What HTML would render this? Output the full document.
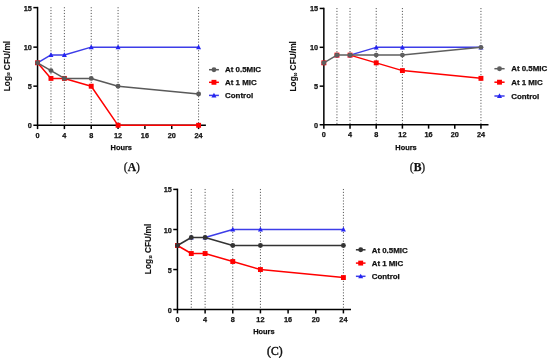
<!DOCTYPE html>
<html><head><meta charset="utf-8"><title>Figure</title>
<style>
html,body{margin:0;padding:0;background:#fff;}
body{width:550px;height:359px;overflow:hidden;position:relative;}
svg{position:absolute;left:0;top:0;display:block;}
text{font-family:"Liberation Sans",Arial,sans-serif;font-weight:bold;fill:#111;stroke:#111;stroke-width:0.25px;}
text.pl{font-family:"Liberation Serif","Times New Roman",serif;font-weight:normal;fill:#111;}
</style></head><body>
<svg width="550" height="359" viewBox="0 0 550 359">
<g><line x1="50.97" y1="7.18" x2="50.97" y2="125.3" stroke="#555" stroke-width="1.0" stroke-dasharray="1.1 1.77"/>
<line x1="64.39" y1="7.18" x2="64.39" y2="125.3" stroke="#555" stroke-width="1.0" stroke-dasharray="1.1 1.77"/>
<line x1="91.23" y1="7.18" x2="91.23" y2="125.3" stroke="#555" stroke-width="1.0" stroke-dasharray="1.1 1.77"/>
<line x1="118.07" y1="7.18" x2="118.07" y2="125.3" stroke="#555" stroke-width="1.0" stroke-dasharray="1.1 1.77"/>
<line x1="198.59" y1="7.18" x2="198.59" y2="125.3" stroke="#555" stroke-width="1.0" stroke-dasharray="1.1 1.77"/>
<line x1="37.55" y1="6.85" x2="37.55" y2="129.1" stroke="#000" stroke-width="1.5"/>
<line x1="33.35" y1="125.3" x2="205.9" y2="125.3" stroke="#000" stroke-width="1.5"/>
<line x1="33.35" y1="86.15" x2="37.55" y2="86.15" stroke="#000" stroke-width="1.5"/>
<line x1="33.35" y1="47.15" x2="37.55" y2="47.15" stroke="#000" stroke-width="1.5"/>
<line x1="33.35" y1="7.6" x2="37.55" y2="7.6" stroke="#000" stroke-width="1.5"/>
<line x1="64.39" y1="125.3" x2="64.39" y2="129.1" stroke="#000" stroke-width="1.5"/>
<line x1="91.23" y1="125.3" x2="91.23" y2="129.1" stroke="#000" stroke-width="1.5"/>
<line x1="118.07" y1="125.3" x2="118.07" y2="129.1" stroke="#000" stroke-width="1.5"/>
<line x1="144.91" y1="125.3" x2="144.91" y2="129.1" stroke="#000" stroke-width="1.5"/>
<line x1="171.75" y1="125.3" x2="171.75" y2="129.1" stroke="#000" stroke-width="1.5"/>
<line x1="198.59" y1="125.3" x2="198.59" y2="129.1" stroke="#000" stroke-width="1.5"/>
<text x="31.85" y="128.3" text-anchor="end" font-size="7.3">0</text>
<text x="31.85" y="89.15" text-anchor="end" font-size="7.3">5</text>
<text x="31.85" y="50.15" text-anchor="end" font-size="7.3">10</text>
<text x="31.85" y="10.6" text-anchor="end" font-size="7.3">15</text>
<text x="37.55" y="137.8" text-anchor="middle" font-size="7.3">0</text>
<text x="64.39" y="137.8" text-anchor="middle" font-size="7.3">4</text>
<text x="91.23" y="137.8" text-anchor="middle" font-size="7.3">8</text>
<text x="118.07" y="137.8" text-anchor="middle" font-size="7.3">12</text>
<text x="144.91" y="137.8" text-anchor="middle" font-size="7.3">16</text>
<text x="171.75" y="137.8" text-anchor="middle" font-size="7.3">20</text>
<text x="198.59" y="137.8" text-anchor="middle" font-size="7.3">24</text>
<polyline points="37.55,62.78 50.97,54.96 64.39,54.96 91.23,47.15 118.07,47.15 198.59,47.15" fill="none" stroke="#3d3de8" stroke-width="1.5" stroke-linejoin="round"/>
<polygon points="37.55,60.13 40.05,64.83 35.05,64.83" fill="#2525f2"/>
<polygon points="50.97,52.31 53.47,57.01 48.47,57.01" fill="#2525f2"/>
<polygon points="64.39,52.31 66.89,57.01 61.89,57.01" fill="#2525f2"/>
<polygon points="91.23,44.5 93.73,49.2 88.73,49.2" fill="#2525f2"/>
<polygon points="118.07,44.5 120.57,49.2 115.57,49.2" fill="#2525f2"/>
<polygon points="198.59,44.5 201.09,49.2 196.09,49.2" fill="#2525f2"/>
<polyline points="37.55,62.78 50.97,78.41 64.39,78.41 91.23,86.22 118.07,125.3 198.59,125.3" fill="none" stroke="#ff0000" stroke-width="1.5" stroke-linejoin="round"/>
<rect x="35.1" y="60.33" width="4.9" height="4.9" fill="#ff0000"/>
<rect x="48.52" y="75.96" width="4.9" height="4.9" fill="#ff0000"/>
<rect x="61.94" y="75.96" width="4.9" height="4.9" fill="#ff0000"/>
<rect x="88.78" y="83.77" width="4.9" height="4.9" fill="#ff0000"/>
<rect x="115.62" y="122.85" width="4.9" height="4.9" fill="#ff0000"/>
<rect x="196.14" y="122.85" width="4.9" height="4.9" fill="#ff0000"/>
<polyline points="37.55,62.78 50.97,70.59 64.39,78.41 91.23,78.41 118.07,86.22 198.59,94.04" fill="none" stroke="#5a5a5a" stroke-width="1.5" stroke-linejoin="round"/>
<circle cx="37.55" cy="62.78" r="2.45" fill="#5a5a5a"/>
<circle cx="50.97" cy="70.59" r="2.45" fill="#5a5a5a"/>
<circle cx="64.39" cy="78.41" r="2.45" fill="#5a5a5a"/>
<circle cx="91.23" cy="78.41" r="2.45" fill="#5a5a5a"/>
<circle cx="118.07" cy="86.22" r="2.45" fill="#5a5a5a"/>
<circle cx="198.59" cy="94.04" r="2.45" fill="#5a5a5a"/>
<line x1="209" y1="69.7" x2="218.9" y2="69.7" stroke="#5a5a5a" stroke-width="1.5"/>
<circle cx="213.95" cy="69.7" r="2.45" fill="#5a5a5a"/>
<text x="225.1" y="72.4" font-size="7.9">At 0.5MIC</text>
<line x1="209" y1="82.3" x2="218.9" y2="82.3" stroke="#ff0000" stroke-width="1.5"/>
<rect x="211.5" y="79.85" width="4.9" height="4.9" fill="#ff0000"/>
<text x="225.1" y="85" font-size="7.9">At 1 MIC</text>
<line x1="209" y1="95.4" x2="218.9" y2="95.4" stroke="#3d3de8" stroke-width="1.5"/>
<polygon points="213.95,92.75 216.45,97.45 211.45,97.45" fill="#2525f2"/>
<text x="225.1" y="98.1" font-size="7.9">Control</text>
<text transform="translate(10,66.05) rotate(-90)" text-anchor="middle" font-size="8.4" style="stroke-width:0.12px">Log<tspan font-size="3.1" dy="0.3">10</tspan><tspan dy="-0.3"> CFU/ml</tspan></text>
<text x="121.3" y="150.1" text-anchor="middle" font-size="7.4">Hours</text>
<text class="pl" x="131.9" y="171.3" text-anchor="middle" font-size="11.6">(<tspan font-weight="bold">A</tspan>)</text></g>
<g><line x1="336.94" y1="8.03" x2="336.94" y2="124.85" stroke="#555" stroke-width="1.0" stroke-dasharray="1.1 1.77"/>
<line x1="350.03" y1="8.03" x2="350.03" y2="124.85" stroke="#555" stroke-width="1.0" stroke-dasharray="1.1 1.77"/>
<line x1="376.22" y1="8.03" x2="376.22" y2="124.85" stroke="#555" stroke-width="1.0" stroke-dasharray="1.1 1.77"/>
<line x1="402.4" y1="8.03" x2="402.4" y2="124.85" stroke="#555" stroke-width="1.0" stroke-dasharray="1.1 1.77"/>
<line x1="480.95" y1="8.03" x2="480.95" y2="124.85" stroke="#555" stroke-width="1.0" stroke-dasharray="1.1 1.77"/>
<line x1="323.85" y1="7.7" x2="323.85" y2="128.65" stroke="#000" stroke-width="1.5"/>
<line x1="319.65" y1="124.85" x2="488.5" y2="124.85" stroke="#000" stroke-width="1.5"/>
<line x1="319.65" y1="86.15" x2="323.85" y2="86.15" stroke="#000" stroke-width="1.5"/>
<line x1="319.65" y1="47.3" x2="323.85" y2="47.3" stroke="#000" stroke-width="1.5"/>
<line x1="319.65" y1="8.45" x2="323.85" y2="8.45" stroke="#000" stroke-width="1.5"/>
<line x1="350.03" y1="124.85" x2="350.03" y2="128.65" stroke="#000" stroke-width="1.5"/>
<line x1="376.22" y1="124.85" x2="376.22" y2="128.65" stroke="#000" stroke-width="1.5"/>
<line x1="402.4" y1="124.85" x2="402.4" y2="128.65" stroke="#000" stroke-width="1.5"/>
<line x1="428.59" y1="124.85" x2="428.59" y2="128.65" stroke="#000" stroke-width="1.5"/>
<line x1="454.77" y1="124.85" x2="454.77" y2="128.65" stroke="#000" stroke-width="1.5"/>
<line x1="480.95" y1="124.85" x2="480.95" y2="128.65" stroke="#000" stroke-width="1.5"/>
<text x="318.15" y="127.85" text-anchor="end" font-size="7.3">0</text>
<text x="318.15" y="89.15" text-anchor="end" font-size="7.3">5</text>
<text x="318.15" y="50.3" text-anchor="end" font-size="7.3">10</text>
<text x="318.15" y="11.45" text-anchor="end" font-size="7.3">15</text>
<text x="323.85" y="137.35" text-anchor="middle" font-size="7.3">0</text>
<text x="350.03" y="137.35" text-anchor="middle" font-size="7.3">4</text>
<text x="376.22" y="137.35" text-anchor="middle" font-size="7.3">8</text>
<text x="402.4" y="137.35" text-anchor="middle" font-size="7.3">12</text>
<text x="428.59" y="137.35" text-anchor="middle" font-size="7.3">16</text>
<text x="454.77" y="137.35" text-anchor="middle" font-size="7.3">20</text>
<text x="480.95" y="137.35" text-anchor="middle" font-size="7.3">24</text>
<polyline points="350.03,55.1 376.22,47.35 402.4,47.35 480.95,47.35" fill="none" stroke="#3d3de8" stroke-width="1.5" stroke-linejoin="round"/>
<polygon points="323.85,60.2 326.35,64.9 321.35,64.9" fill="#2525f2"/>
<polygon points="336.94,52.45 339.44,57.15 334.44,57.15" fill="#2525f2"/>
<polygon points="350.03,52.45 352.53,57.15 347.53,57.15" fill="#2525f2"/>
<polygon points="376.22,44.7 378.72,49.4 373.72,49.4" fill="#2525f2"/>
<polygon points="402.4,44.7 404.9,49.4 399.9,49.4" fill="#2525f2"/>
<polygon points="480.95,44.7 483.45,49.4 478.45,49.4" fill="#2525f2"/>
<polyline points="350.03,55.1 376.22,62.85 402.4,70.6 480.95,78.35" fill="none" stroke="#ff0000" stroke-width="1.5" stroke-linejoin="round"/>
<rect x="321.4" y="60.4" width="4.9" height="4.9" fill="#ff0000"/>
<rect x="334.49" y="52.65" width="4.9" height="4.9" fill="#ff0000"/>
<rect x="347.58" y="52.65" width="4.9" height="4.9" fill="#ff0000"/>
<rect x="373.77" y="60.4" width="4.9" height="4.9" fill="#ff0000"/>
<rect x="399.95" y="68.15" width="4.9" height="4.9" fill="#ff0000"/>
<rect x="478.5" y="75.9" width="4.9" height="4.9" fill="#ff0000"/>
<polyline points="323.85,62.85 336.94,55.1 350.03,55.1 376.22,55.1 402.4,55.1 480.95,47.35" fill="none" stroke="#5f5f5f" stroke-width="1.5" stroke-linejoin="round"/>
<circle cx="323.85" cy="62.85" r="2.45" fill="#5f5f5f"/>
<circle cx="336.94" cy="55.1" r="2.45" fill="#5f5f5f"/>
<circle cx="350.03" cy="55.1" r="2.45" fill="#5f5f5f"/>
<circle cx="376.22" cy="55.1" r="2.45" fill="#5f5f5f"/>
<circle cx="402.4" cy="55.1" r="2.45" fill="#5f5f5f"/>
<circle cx="480.95" cy="47.35" r="2.45" fill="#5f5f5f"/>
<line x1="494.4" y1="68.7" x2="504.6" y2="68.7" stroke="#5f5f5f" stroke-width="1.5"/>
<circle cx="499.5" cy="68.7" r="2.45" fill="#5f5f5f"/>
<text x="511.2" y="71.4" font-size="7.9">At 0.5MIC</text>
<line x1="494.4" y1="82.2" x2="504.6" y2="82.2" stroke="#ff0000" stroke-width="1.5"/>
<rect x="497.05" y="79.75" width="4.9" height="4.9" fill="#ff0000"/>
<text x="511.2" y="84.9" font-size="7.9">At 1 MIC</text>
<line x1="494.4" y1="96" x2="504.6" y2="96" stroke="#3d3de8" stroke-width="1.5"/>
<polygon points="499.5,93.35 502,98.05 497,98.05" fill="#2525f2"/>
<text x="511.2" y="98.7" font-size="7.9">Control</text>
<text transform="translate(296.3,66.3) rotate(-90)" text-anchor="middle" font-size="8.4" style="stroke-width:0.12px">Log<tspan font-size="3.1" dy="0.3">10</tspan><tspan dy="-0.3"> CFU/ml</tspan></text>
<text x="406" y="150.3" text-anchor="middle" font-size="7.4">Hours</text>
<text class="pl" x="417.5" y="171" text-anchor="middle" font-size="11.6">(<tspan font-weight="bold">B</tspan>)</text></g>
<g><line x1="191.28" y1="188.98" x2="191.28" y2="309.6" stroke="#555" stroke-width="1.0" stroke-dasharray="1.1 1.77"/>
<line x1="205.11" y1="188.98" x2="205.11" y2="309.6" stroke="#555" stroke-width="1.0" stroke-dasharray="1.1 1.77"/>
<line x1="232.77" y1="188.98" x2="232.77" y2="309.6" stroke="#555" stroke-width="1.0" stroke-dasharray="1.1 1.77"/>
<line x1="260.43" y1="188.98" x2="260.43" y2="309.6" stroke="#555" stroke-width="1.0" stroke-dasharray="1.1 1.77"/>
<line x1="343.41" y1="188.98" x2="343.41" y2="309.6" stroke="#555" stroke-width="1.0" stroke-dasharray="1.1 1.77"/>
<line x1="177.45" y1="188.65" x2="177.45" y2="313.4" stroke="#000" stroke-width="1.5"/>
<line x1="173.25" y1="309.6" x2="351" y2="309.6" stroke="#000" stroke-width="1.5"/>
<line x1="173.25" y1="269.55" x2="177.45" y2="269.55" stroke="#000" stroke-width="1.5"/>
<line x1="173.25" y1="229.5" x2="177.45" y2="229.5" stroke="#000" stroke-width="1.5"/>
<line x1="173.25" y1="189.4" x2="177.45" y2="189.4" stroke="#000" stroke-width="1.5"/>
<line x1="205.11" y1="309.6" x2="205.11" y2="313.4" stroke="#000" stroke-width="1.5"/>
<line x1="232.77" y1="309.6" x2="232.77" y2="313.4" stroke="#000" stroke-width="1.5"/>
<line x1="260.43" y1="309.6" x2="260.43" y2="313.4" stroke="#000" stroke-width="1.5"/>
<line x1="288.09" y1="309.6" x2="288.09" y2="313.4" stroke="#000" stroke-width="1.5"/>
<line x1="315.75" y1="309.6" x2="315.75" y2="313.4" stroke="#000" stroke-width="1.5"/>
<line x1="343.41" y1="309.6" x2="343.41" y2="313.4" stroke="#000" stroke-width="1.5"/>
<text x="171.75" y="312.6" text-anchor="end" font-size="7.3">0</text>
<text x="171.75" y="272.55" text-anchor="end" font-size="7.3">5</text>
<text x="171.75" y="232.5" text-anchor="end" font-size="7.3">10</text>
<text x="171.75" y="192.4" text-anchor="end" font-size="7.3">15</text>
<text x="177.45" y="322.1" text-anchor="middle" font-size="7.3">0</text>
<text x="205.11" y="322.1" text-anchor="middle" font-size="7.3">4</text>
<text x="232.77" y="322.1" text-anchor="middle" font-size="7.3">8</text>
<text x="260.43" y="322.1" text-anchor="middle" font-size="7.3">12</text>
<text x="288.09" y="322.1" text-anchor="middle" font-size="7.3">16</text>
<text x="315.75" y="322.1" text-anchor="middle" font-size="7.3">20</text>
<text x="343.41" y="322.1" text-anchor="middle" font-size="7.3">24</text>
<polyline points="205.11,237.48 232.77,229.47 260.43,229.47 343.41,229.47" fill="none" stroke="#3d3de8" stroke-width="1.5" stroke-linejoin="round"/>
<polygon points="177.45,242.85 179.95,247.55 174.95,247.55" fill="#2525f2"/>
<polygon points="191.28,234.83 193.78,239.53 188.78,239.53" fill="#2525f2"/>
<polygon points="205.11,234.83 207.61,239.53 202.61,239.53" fill="#2525f2"/>
<polygon points="232.77,226.82 235.27,231.52 230.27,231.52" fill="#2525f2"/>
<polygon points="260.43,226.82 262.93,231.52 257.93,231.52" fill="#2525f2"/>
<polygon points="343.41,226.82 345.91,231.52 340.91,231.52" fill="#2525f2"/>
<polyline points="177.45,245.5 191.28,253.51 205.11,253.51 232.77,261.52 260.43,269.54 343.41,277.55" fill="none" stroke="#ff0000" stroke-width="1.5" stroke-linejoin="round"/>
<rect x="175" y="243.05" width="4.9" height="4.9" fill="#ff0000"/>
<rect x="188.83" y="251.06" width="4.9" height="4.9" fill="#ff0000"/>
<rect x="202.66" y="251.06" width="4.9" height="4.9" fill="#ff0000"/>
<rect x="230.32" y="259.07" width="4.9" height="4.9" fill="#ff0000"/>
<rect x="257.98" y="267.09" width="4.9" height="4.9" fill="#ff0000"/>
<rect x="340.96" y="275.1" width="4.9" height="4.9" fill="#ff0000"/>
<polyline points="177.45,245.5 191.28,237.48 205.11,237.48 232.77,245.5 260.43,245.5 343.41,245.5" fill="none" stroke="#333333" stroke-width="1.5" stroke-linejoin="round"/>
<circle cx="177.45" cy="245.5" r="2.45" fill="#333333"/>
<circle cx="191.28" cy="237.48" r="2.45" fill="#333333"/>
<circle cx="205.11" cy="237.48" r="2.45" fill="#333333"/>
<circle cx="232.77" cy="245.5" r="2.45" fill="#333333"/>
<circle cx="260.43" cy="245.5" r="2.45" fill="#333333"/>
<circle cx="343.41" cy="245.5" r="2.45" fill="#333333"/>
<line x1="355.9" y1="249.8" x2="365.5" y2="249.8" stroke="#333333" stroke-width="1.5"/>
<circle cx="360.7" cy="249.8" r="2.45" fill="#333333"/>
<text x="371.7" y="252.5" font-size="7.9">At 0.5MIC</text>
<line x1="355.9" y1="263.1" x2="365.5" y2="263.1" stroke="#ff0000" stroke-width="1.5"/>
<rect x="358.25" y="260.65" width="4.9" height="4.9" fill="#ff0000"/>
<text x="371.7" y="265.8" font-size="7.9">At 1 MIC</text>
<line x1="355.9" y1="276.3" x2="365.5" y2="276.3" stroke="#3d3de8" stroke-width="1.5"/>
<polygon points="360.7,273.65 363.2,278.35 358.2,278.35" fill="#2525f2"/>
<text x="371.7" y="279" font-size="7.9">Control</text>
<text transform="translate(151.2,249) rotate(-90)" text-anchor="middle" font-size="8.4" style="stroke-width:0.12px">Log<tspan font-size="3.1" dy="0.3">10</tspan><tspan dy="-0.3"> CFU/ml</tspan></text>
<text x="263.9" y="334.1" text-anchor="middle" font-size="7.4">Hours</text>
<text class="pl" x="274.8" y="355" text-anchor="middle" font-size="11.6" style="stroke-width:0.45px">(<tspan font-weight="normal">C</tspan>)</text></g>
</svg>
</body></html>
